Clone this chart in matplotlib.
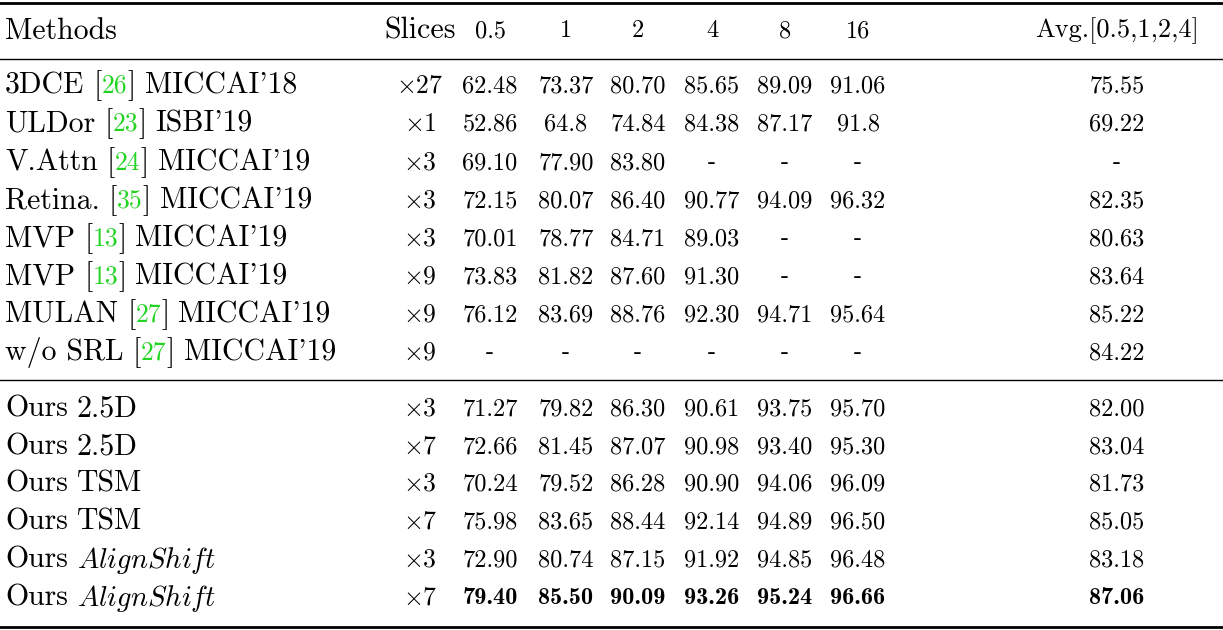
import matplotlib
matplotlib.use("Agg")
import matplotlib.pyplot as plt
from matplotlib.transforms import IdentityTransform
from matplotlib.lines import Line2D

plt.rcParams['font.family'] = 'serif'
plt.rcParams['font.serif'] = ['cmr10', 'DejaVu Serif']
plt.rcParams['mathtext.fontset'] = 'cm'

headers = ["Methods", "Slices", "0.5", "1", "2", "4", "8", "16", "Avg.[0.5,1,2,4]"]
methods1 = [("3DCE", "26", "MICCAI'18"), ("ULDor", "23", "ISBI'19"), ("V.Attn", "24", "MICCAI'19"),
            ("Retina.", "35", "MICCAI'19"), ("MVP", "13", "MICCAI'19"), ("MVP", "13", "MICCAI'19"),
            ("MULAN", "27", "MICCAI'19"), ("w/o SRL", "27", "MICCAI'19")]
slices1 = ["27", "1", "3", "3", "3", "9", "9", "9"]
values1 = [["62.48", "73.37", "80.70", "85.65", "89.09", "91.06", "75.55"],
           ["52.86", "64.8", "74.84", "84.38", "87.17", "91.8", "69.22"],
           ["69.10", "77.90", "83.80", "-", "-", "-", "-"],
           ["72.15", "80.07", "86.40", "90.77", "94.09", "96.32", "82.35"],
           ["70.01", "78.77", "84.71", "89.03", "-", "-", "80.63"],
           ["73.83", "81.82", "87.60", "91.30", "-", "-", "83.64"],
           ["76.12", "83.69", "88.76", "92.30", "94.71", "95.64", "85.22"],
           ["-", "-", "-", "-", "-", "-", "84.22"]]
methods2 = [("Ours", "2.5D"), ("Ours", "2.5D"), ("Ours", "TSM"), ("Ours", "TSM"),
            ("Ours", "AlignShift"), ("Ours", "AlignShift")]
slices2 = ["3", "7", "3", "7", "3", "7"]
values2 = [["71.27", "79.82", "86.30", "90.61", "93.75", "95.70", "82.00"],
           ["72.66", "81.45", "87.07", "90.98", "93.40", "95.30", "83.04"],
           ["70.24", "79.52", "86.28", "90.90", "94.06", "96.09", "81.73"],
           ["75.98", "83.65", "88.44", "92.14", "94.89", "96.50", "85.05"],
           ["72.90", "80.74", "87.15", "91.92", "94.85", "96.48", "83.18"],
           ["79.40", "85.50", "90.09", "93.26", "95.24", "96.66", "87.06"]]

W, H = 1223, 630
fig = plt.figure(figsize=(W/100, H/100), dpi=100)
fig.patch.set_facecolor('white')
T = IdentityTransform()
FS = 21.5   # words
NFS = 17.5  # numbers
GREEN = '#22d422'
renderer = fig.canvas.get_renderer()

def txt(x, y, s, ha='left', **kw):
    kw.setdefault('fontsize', FS)
    return fig.text(x, H - y, s, ha=ha, va='center', transform=T, **kw)

def seq(x, y, parts):
    for s, kw in parts:
        t = txt(x, y, s, **kw)
        x = t.get_window_extent(renderer).x1
    return x

space = 9
def hline(y, lw):
    fig.add_artist(Line2D([0, W], [H - y, H - y], lw=lw, color='black', transform=T))

colx = [420, 490, 566, 638, 712, 785, 858, 1117]
hline(3, 2.0); hline(59, 1.0); hline(380, 1.0); hline(627, 2.0)

hy = 31
txt(5, hy, headers[0])
txt(colx[0], hy, headers[1], ha='center')
for i, h in enumerate(headers[2:8]):
    txt(colx[i+1], hy, h, ha='center', fontsize=NFS)
txt(colx[7], hy, headers[8], ha='center', fontsize=19)

rows1 = [86, 124, 163, 201, 239, 277, 315, 353]
for r, y in enumerate(rows1):
    name, cite, venue = methods1[r]
    x = seq(5, y, [(name, {})]) + space
    x = seq(x, y, [("[", {}), (cite, {'color': GREEN, 'fontsize': NFS + 1}), ("]", {})]) + space
    seq(x, y, [(venue, {})])
    txt(colx[0], y, r"$\times$" + slices1[r], ha='center', fontsize=NFS + 1)
    for j, v in enumerate(values1[r]):
        txt(colx[j+1], y, v, ha='center', fontsize=NFS)

rows2 = [409, 447, 484, 522, 560, 598]
for r, y in enumerate(rows2):
    a, b = methods2[r]
    x = seq(5, y, [(a, {})]) + space
    if b == "AlignShift":
        txt(x, y + 1, r"$\mathit{AlignShift}$", fontsize=FS - 1)
    else:
        txt(x, y, b)
    txt(colx[0], y, r"$\times$" + slices2[r], ha='center', fontsize=NFS + 1)
    bold = r == len(rows2) - 1
    for j, v in enumerate(values2[r]):
        if bold:
            txt(colx[j+1], y, v, ha='center', family='cmb10', fontsize=NFS)
        else:
            txt(colx[j+1], y, v, ha='center', fontsize=NFS)

fig.savefig("out.png", dpi=100)
